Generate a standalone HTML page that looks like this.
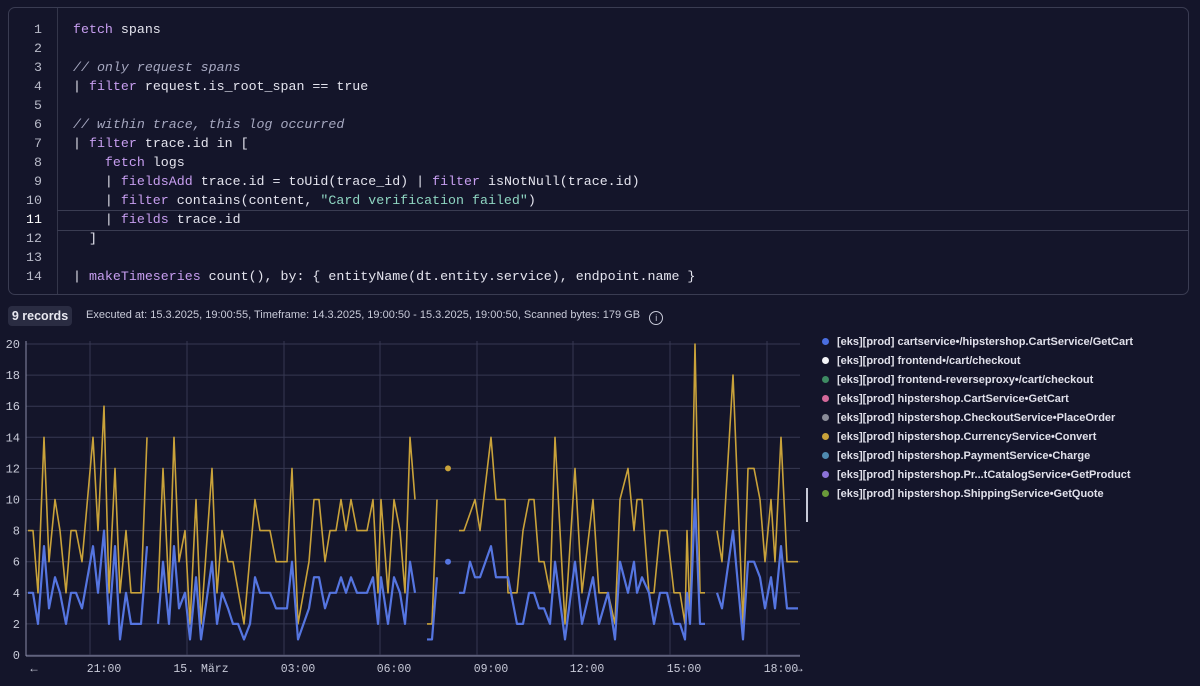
<!DOCTYPE html>
<html><head><meta charset="utf-8"><style>
body{margin:0;width:1200px;height:686px;background:#14152a;overflow:hidden;font-family:"Liberation Sans",sans-serif;position:relative}
.code{position:absolute;left:8px;top:7px;width:1181px;height:288px;border:1px solid #3a3c52;border-radius:7px;box-sizing:border-box}
.gut{position:absolute;left:0;top:0;width:48px;height:100%;border-right:1px solid #34364a}
.ln{position:absolute;left:0;width:33px;text-align:right;font:13.3px "Liberation Mono",monospace;color:#b8bac8}
.tx{position:absolute;left:64px;font:13.3px "Liberation Mono",monospace;color:#e4e4ee;white-space:pre}
.k{color:#c79ef0}.c{color:#a6a8c0;font-style:italic}.s{color:#8fd6c2}
.hl{position:absolute;left:48px;right:0;top:202px;height:19px;border-top:1px solid #3a3c52;border-bottom:1px solid #3a3c52}
.badge{position:absolute;left:8px;top:306px;width:64px;height:20px;background:#2a2c42;border-radius:4px;color:#e8e8f0;font-size:12.5px;font-weight:bold;line-height:20px;text-align:center}
.exec{position:absolute;left:86px;top:309px;font-size:11px;color:#c8cad8}
.leg{position:absolute;left:822px;font-size:11px;color:#e0e0ea;font-weight:bold;white-space:nowrap}
.leg i{display:inline-block;width:7px;height:7px;border-radius:50%;margin-right:8px;vertical-align:0px}
</style></head><body>
<div class="code"><div class="gut"></div><div class="hl"></div><div id="lines"></div></div>
<div class="badge">9 records</div>
<div class="exec">Executed at: 15.3.2025, 19:00:55, Timeframe: 14.3.2025, 19:00:50 - 15.3.2025, 19:00:50, Scanned bytes: 179 GB &nbsp;&nbsp;<span style="display:inline-block;width:12px;height:12px;border:1.3px solid #c8cad8;border-radius:50%;text-align:center;font-size:9px;line-height:12px;vertical-align:-3px">i</span></div>
<svg id="ch" width="1200" height="686" style="position:absolute;left:0;top:0" xmlns="http://www.w3.org/2000/svg"></svg>
<div id="legend"></div>
<div style="position:absolute;left:806px;top:488px;width:2px;height:34px;background:#c8cad8"></div>
<script>
var code=[
'<span class="k">fetch</span> spans','',
'<span class="c">// only request spans</span>',
'| <span class="k">filter</span> request.is_root_span == true','',
'<span class="c">// within trace, this log occurred</span>',
'| <span class="k">filter</span> trace.id in [',
'    <span class="k">fetch</span> logs',
'    | <span class="k">fieldsAdd</span> trace.id = toUid(trace_id) | <span class="k">filter</span> isNotNull(trace.id)',
'    | <span class="k">filter</span> contains(content, <span class="s">"Card verification failed"</span>)',
'    | <span class="k">fields</span> trace.id',
'  ]','',
'| <span class="k">makeTimeseries</span> count(), by: { entityName(dt.entity.service), endpoint.name }'];
var h='';for(var i=0;i<14;i++){var t=14+i*19;h+='<div class="ln" style="top:'+t+'px;'+(i==10?'color:#fff':'')+'">'+(i+1)+'</div><div class="tx" style="top:'+t+'px">'+code[i]+'</div>';}
document.getElementById('lines').innerHTML=h;
var s='',Y=function(v){return 655-v*15.55};
for(var v=0;v<=20;v+=2){s+='<line x1="26" x2="800" y1="'+Y(v)+'" y2="'+Y(v)+'" stroke="#363852" stroke-width="1"/>';s+='<text x="20" y="'+(Y(v)+4)+'" text-anchor="end" font-family="Liberation Mono" font-size="12" fill="#c8cad8">'+v+'</text>';}
var xs=[90,187,284,380,477,573,670,767],xl=['21:00','15. März','03:00','06:00','09:00','12:00','15:00','18:00'];
for(var i=0;i<8;i++){s+='<line x1="'+xs[i]+'" x2="'+xs[i]+'" y1="341" y2="655" stroke="#363852"/>';s+='<text x="'+(xs[i]+14)+'" y="672" text-anchor="middle" font-family="Liberation Mono" font-size="11.5" fill="#c8cad8">'+xl[i]+'</text>';}
s+='<line x1="26" x2="26" y1="341" y2="656" stroke="#8a8ca8"/><line x1="26" x2="800" y1="656" y2="656" stroke="#8a8ca8"/>';
s+='<text x="28" y="672" font-size="12" fill="#c8cad8">←</text><text x="793" y="672" font-size="12" fill="#c8cad8">→</text>';
var yel=[[28,8,33,8,38,4,44,14,49,6,55,10,60,8,66,4,71,8,76,8,82,6,93,14,98,8,104,16,109,4,115,12,120,4,126,8,131,4,136,4,141,4,147,14],
[158,4,163,12,169,4,174,14,179,6,185,8,190,2,196,10,201,2,212,12,217,4,222,8,228,6,233,6,244,2,255,10,260,8,270,8,276,6,287,6,292,12,298,2,309,6,314,10,319,10,325,6,330,8,336,8,341,10,346,8,351,10,357,8,367,8,373,10,378,4,381,10,388,4,394,10,400,8,405,4,410,14,415,10],
[427,2,432,2,437,10],
[459,8,464,8,475,10,480,8,491,14,496,10,505,10,508,4,517,4,523,8,529,10,534,10,539,6,544,6,550,4,555,14,565,2,575,12,582,4,593,10,599,4,608,4,615,2,620,10,628,12,634,8,637,10,642,10,649,4,654,4,660,8,667,8,674,4,680,4,685,2,687,8,690,2,695,20,700,4,705,4],
[717,8,722,6,733,18,743,2,748,12,754,12,760,10,765,6,771,10,775,6,781,14,787,6,798,6]];
var blu=[[28,4,33,4,38,2,44,7,49,3,55,5,60,4,66,2,71,4,76,4,82,3,93,7,98,4,104,8,109,2,115,7,120,1,126,4,131,2,136,2,141,2,147,7],
[158,2,163,6,169,2,174,7,179,3,185,4,190,1,196,5,201,1,212,6,217,2,222,4,228,3,233,2,238,2,244,1,250,2,255,5,260,4,270,4,276,3,287,3,292,6,298,1,309,3,314,5,319,5,325,3,330,4,336,4,341,5,346,4,351,5,357,4,367,4,373,5,378,2,381,5,388,2,394,5,400,4,405,2,410,6,415,4],
[427,1,432,1,437,5],
[459,4,464,4,470,6,475,5,480,5,491,7,496,5,505,5,508,5,517,2,523,2,529,4,534,4,539,3,544,3,550,2,555,6,565,1,575,6,582,2,593,5,599,2,608,4,615,1,620,6,628,4,634,6,637,4,642,5,649,4,654,2,660,4,667,4,674,2,680,2,685,1,687,4,690,2,695,10,700,2,705,2],
[717,4,722,3,733,8,743,1,748,6,754,6,760,5,765,3,771,5,775,3,781,7,787,3,798,3]];
function pl(a,c,w){a.forEach(function(p){var q='';for(var i=0;i<p.length;i+=2)q+=p[i]+','+Y(p[i+1])+' ';s+='<polyline points="'+q+'" fill="none" stroke="'+c+'" stroke-width="'+w+'" stroke-linejoin="round"/>';});}
pl(yel,'#c9a23a',1.6);pl(blu,'#5575e0',2.2);
s+='<circle cx="448" cy="'+Y(12)+'" r="3" fill="#c9a23a"/><circle cx="448" cy="'+Y(6)+'" r="3" fill="#5575e0"/>';
document.getElementById('ch').innerHTML=s;
var L=[['#4a6ee0','cartservice•/hipstershop.CartService/GetCart'],['#f4f4f8','frontend•/cart/checkout'],['#3e8a62','frontend-reverseproxy•/cart/checkout'],['#d4689a','hipstershop.CartService•GetCart'],['#8a8c98','hipstershop.CheckoutService•PlaceOrder'],['#c9a23a','hipstershop.CurrencyService•Convert'],['#4f8ab0','hipstershop.PaymentService•Charge'],['#8c72d8','hipstershop.Pr...tCatalogService•GetProduct'],['#6a9a3a','hipstershop.ShippingService•GetQuote']];
var g='';L.forEach(function(l,i){g+='<div class="leg" style="top:'+(336+i*19)+'px"><i style="background:'+l[0]+'"></i>[eks][prod] '+l[1]+'</div>';});
document.getElementById('legend').innerHTML=g;
</script>
</body></html>
